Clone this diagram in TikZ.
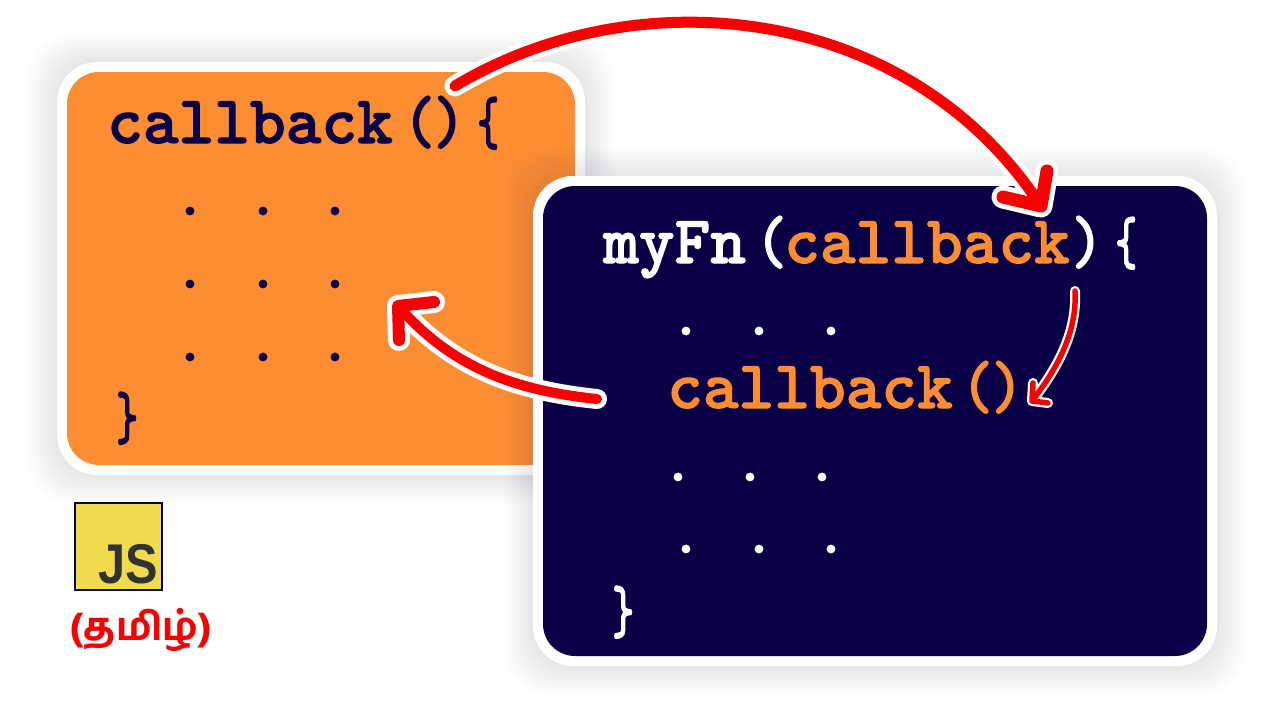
\documentclass[tikz,border=0pt]{standalone}
\usepackage{fontspec}
\newfontfamily\codefont{lmmonolt10-bold.otf}[FakeBold=1.6]
\newfontfamily\logofont{Liberation Sans Bold}
\newfontfamily\tamilfont[Script=Tamil,BoldFont={Hind Madurai Bold}]{Hind Madurai}
\definecolor{panelorange}{HTML}{FD8D33}
\definecolor{panelnavy}{HTML}{0A0045}
\definecolor{arrowred}{HTML}{F80000}
\definecolor{jsyellow}{HTML}{F0DB4F}
\definecolor{jsdark}{HTML}{323330}
\definecolor{softshadow}{HTML}{30306A}
\tikzset{
  code/.style={inner sep=0pt,anchor=base west,font=\fontsize{68}{68}\selectfont\codefont},
  brace/.style={code,xscale=.62},
  paren/.style={code,xscale=.9},
  panelborder/.style={fill=white,rounded corners=40pt},
  redarrow/.style={draw=arrowred,line cap=round,line join=round},
  whitearrow/.style={draw=white,line cap=round,line join=round},
}
\newcommand{\softglow}[4]{%
  \foreach \k in {1,...,12}{%
    \fill[softshadow,opacity=0.0065,rounded corners=44pt]
      (#1-2.4*\k,#2-2.4*\k) rectangle (#3+2.4*\k,#4+2.4*\k);
  }}
\begin{document}
\begin{tikzpicture}[x=1pt,y=-1pt]
\fill[white] (0,0) rectangle (1280,720);
\useasboundingbox (0,0) rectangle (1280,720);
% orange panel
\softglow{57}{62}{585}{475}
\fill[panelborder] (57,62) rectangle (585,475);
\fill[panelorange,rounded corners=32pt] (67,72) rectangle (575,465);
\node[code,text=panelnavy] (lcb) at (107,143) {callback};
\node[paren,text=panelnavy] (lopen) at (403,143) {(};
\node[paren,text=panelnavy] (lclose) at (433,143) {)};
\node[brace,text=panelnavy] (lbr) at (477,144) {\{};
\foreach \x in {190,263,335}\foreach \y in {211,284,357}{
  \fill[panelnavy] (\x,\y) circle (4.4pt);
}
\node[brace,text=panelnavy] (lend) at (116,439) {\}};
% navy panel
\softglow{533}{176}{1217}{666}
\fill[panelborder] (533,176) rectangle (1217,666);
\fill[panelnavy,rounded corners=32pt] (543,186) rectangle (1207,656);
\node[code,text=white] (myfn) at (603,263) {myFn};
\node[paren,text=white] (ropen) at (755,263) {(};
\node[code,text=panelorange] (rcb) at (784,263) {callback};
\node[paren,text=white] (rclose) at (1071,263) {)};
\node[brace,text=white] (rbr) at (1115,264) {\{};
\node[code,text=panelorange] (rcall) at (667,408) {callback};
\node[paren,text=panelorange] (rcopen) at (961,408) {(};
\node[paren,text=panelorange] (rcclose) at (991,408) {)};
\foreach \x in {686,759,831}{\fill[white] (\x,331) circle (4.4pt);\fill[white] (\x,549) circle (4.4pt);}
\foreach \x in {678,750,822}{\fill[white] (\x,477) circle (4.4pt);}
\node[brace,text=white] (rend) at (612,633) {\}};
% JS logo
\node[draw=panelnavy,line width=1.5pt,fill=jsyellow,minimum size=87pt,inner sep=0pt] (logo) at (118.5,546.5) {};
\node[inner sep=0pt,anchor=base east,text=jsdark,xscale=.87,font=\fontsize{56}{56}\selectfont\logofont] (jstext) at (158,583) {JS};
\node[inner sep=0pt,anchor=base,text=arrowred,font=\fontsize{38.5}{38.5}\selectfont\tamilfont\bfseries] (tamil) at (141,640) {(தமிழ்)};
% arrows
\coordinate (aS) at (455,86);
\coordinate (aT) at (1041,206);
\coordinate (aL) at (1047,171);
\coordinate (aR) at (1003,197);
\draw[whitearrow,line width=21pt] (aS) .. controls (640,-25) and (910,5) .. (aT);
\draw[whitearrow,line width=23pt] (aL) -- (aT) -- (aR);
\draw[redarrow,line width=11pt] (aS) .. controls (640,-25) and (910,5) .. (aT);
\draw[redarrow,line width=13pt] (aL) -- (aT) -- (aR);
\coordinate (bS) at (597,399);
\coordinate (bT) at (398,306);
\coordinate (bL) at (434,302);
\coordinate (bR) at (399,340);
\draw[whitearrow,line width=20pt] (bS) .. controls (510,390) and (450,365) .. (bT);
\draw[whitearrow,line width=22pt] (bL) -- (bT) -- (bR);
\draw[redarrow,line width=10pt] (bS) .. controls (510,390) and (450,365) .. (bT);
\draw[redarrow,line width=12pt] (bL) -- (bT) -- (bR);
\coordinate (cS) at (1075,291);
\coordinate (cT) at (1032,401);
\coordinate (cL) at (1033,383);
\coordinate (cR) at (1048,403);
\draw[whitearrow,line width=10pt] (cS) .. controls (1077,330) and (1060,365) .. (cT) (cL) -- (cT) -- (cR);
\draw[redarrow,line width=5.5pt] (cS) .. controls (1077,330) and (1060,365) .. (cT) (cL) -- (cT) -- (cR);
\end{tikzpicture}
\end{document}
